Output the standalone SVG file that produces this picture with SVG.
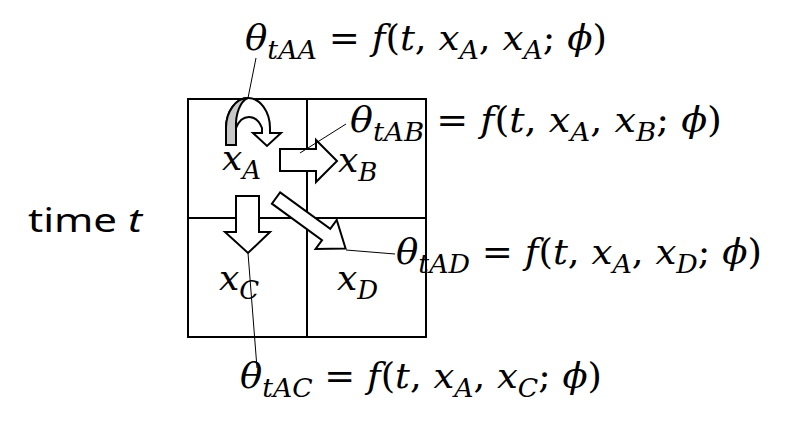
<svg xmlns="http://www.w3.org/2000/svg" width="794" height="425" viewBox="0 0 794 425">
<style>
.m{font-family:"DejaVu Serif","Liberation Serif",serif;font-size:36px;fill:#000}
.i{font-style:italic}
.s{font-size:26px;font-style:italic}
.ar{fill:#fff;stroke:#000;stroke-width:2;stroke-linejoin:miter}
.ld{stroke:#000;stroke-width:1;fill:none}
</style>
<rect width="794" height="425" fill="#fff"/>
<g id="grid" fill="none" stroke="#000" stroke-width="2">
<rect x="188" y="99" width="238" height="238"/>
<line x1="307" y1="99" x2="307" y2="337"/>
<line x1="188" y1="218" x2="426" y2="218"/>
</g>
<g id="cellA"><text class="m i" x="222" y="170">x<tspan class="s" dy="9">A</tspan></text></g>
<g id="cellB"><text class="m i" x="338" y="172">x<tspan class="s" dy="9">B</tspan></text></g>
<g id="cellC"><text class="m i" x="219" y="290">x<tspan class="s" dy="9">C</tspan></text></g>
<g id="cellD"><text class="m i" x="337" y="290">x<tspan class="s" dy="9">D</tspan></text></g>
<g id="timeLabel"><text x="28" y="232" textLength="114" lengthAdjust="spacingAndGlyphs" style="font-family:'Noto Sans','Liberation Sans',sans-serif;font-size:33px">time <tspan font-style="italic">t</tspan></text></g>
<g id="connectors">
<path d="M226,145 L226,128 A22,30 0 0 1 270,128 L270,133 L281,133 L267,146 L253,133 L262,133 L262,128 A15,22 0 0 0 236,128 L236,145 Z" class="ar"/>
<path d="M226,145 L226,128 A22,30 0 0 1 248,98 A15,28 0 0 0 236,128 L236,145 Z" fill="#c8c8c8" stroke="#000" stroke-width="2"/>
<path d="M280,149 L316,149 L316,140 L337,161 L316,182 L316,171 L280,171 Z" class="ar"/>
<path d="M236,196 L259,196 L259,232 L270,232 L248,253 L225,232 L236,232 Z" class="ar"/>
<g transform="translate(276,198) rotate(36)"><path d="M0,-7 L62,-7 L62,-18 L86,0 L62,18 L62,7 L0,7 Z" class="ar"/></g>
<line class="ld" x1="256" y1="58" x2="248" y2="98"/>
<line class="ld" x1="346" y1="124" x2="300" y2="153"/>
<line class="ld" x1="346" y1="250" x2="395" y2="254"/>
<line class="ld" x1="248" y1="253" x2="257" y2="368"/>
</g>
<g id="labelAA"><text class="m" x="245" y="50" textLength="362" lengthAdjust="spacingAndGlyphs"><tspan class="i">θ</tspan><tspan class="s" dy="9">tAA</tspan><tspan dy="-9"> = </tspan><tspan class="i">f</tspan>(<tspan class="i">t</tspan>, <tspan class="i">x</tspan><tspan class="s" dy="9">A</tspan><tspan dy="-9">, </tspan><tspan class="i">x</tspan><tspan class="s" dy="9">A</tspan><tspan dy="-9">; </tspan><tspan class="i">ϕ</tspan>)</text></g>
<g id="labelAB"><text class="m" x="350" y="132" textLength="372" lengthAdjust="spacingAndGlyphs"><tspan class="i">θ</tspan><tspan class="s" dy="9">tAB</tspan><tspan dy="-9"> = </tspan><tspan class="i">f</tspan>(<tspan class="i">t</tspan>, <tspan class="i">x</tspan><tspan class="s" dy="9">A</tspan><tspan dy="-9">, </tspan><tspan class="i">x</tspan><tspan class="s" dy="9">B</tspan><tspan dy="-9">; </tspan><tspan class="i">ϕ</tspan>)</text></g>
<g id="labelAD"><text class="m" x="396" y="264" textLength="366" lengthAdjust="spacingAndGlyphs"><tspan class="i">θ</tspan><tspan class="s" dy="9">tAD</tspan><tspan dy="-9"> = </tspan><tspan class="i">f</tspan>(<tspan class="i">t</tspan>, <tspan class="i">x</tspan><tspan class="s" dy="9">A</tspan><tspan dy="-9">, </tspan><tspan class="i">x</tspan><tspan class="s" dy="9">D</tspan><tspan dy="-9">; </tspan><tspan class="i">ϕ</tspan>)</text></g>
<g id="labelAC"><text class="m" x="240" y="388" textLength="362" lengthAdjust="spacingAndGlyphs"><tspan class="i">θ</tspan><tspan class="s" dy="9">tAC</tspan><tspan dy="-9"> = </tspan><tspan class="i">f</tspan>(<tspan class="i">t</tspan>, <tspan class="i">x</tspan><tspan class="s" dy="9">A</tspan><tspan dy="-9">, </tspan><tspan class="i">x</tspan><tspan class="s" dy="9">C</tspan><tspan dy="-9">; </tspan><tspan class="i">ϕ</tspan>)</text></g>
</svg>
